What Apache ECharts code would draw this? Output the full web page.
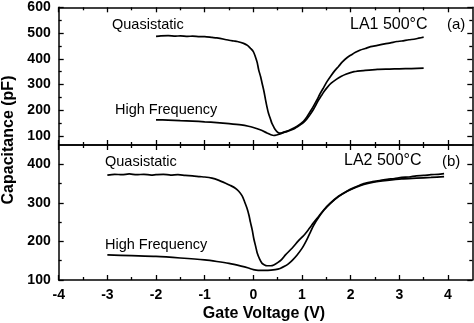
<!DOCTYPE html>
<html>
<head>
<meta charset="utf-8">
<script src="https://cdn.jsdelivr.net/npm/echarts@6/dist/echarts.min.js"></script>
<style>
html,body{margin:0;padding:0;background:#fff;}
#chart{width:474px;height:323px;}
</style>
</head>
<body>
<div id="chart"></div>
<script>
// ---- data (Gate Voltage V, Capacitance pF) ----
var xTicks = [-4, -3, -2, -1, 0, 1, 2, 3, 4];
var xMinor = [-3.5, -2.5, -1.5, -0.5, 0.5, 1.5, 2.5, 3.5];
var yTicksA = [100, 200, 300, 400, 500, 600];
var yMinorA = [150, 250, 350, 450, 550];
var yTicksB = [100, 200, 300, 400];
var yMinorB = [150, 250, 350];

var qsA = [[-2,487],[-1.9,489],[-1.75,490],[-1.6,488],[-1.5,489],[-1.35,487],[-1.25,488],[-1.1,486],[-1,486],[-0.85,483],[-0.75,481],[-0.6,476],[-0.5,472],[-0.4,469],[-0.33,467],[-0.2,460],[-0.12,452],[-0.06,441],[0,428],[0.04,409],[0.08,385],[0.11,357],[0.15,330],[0.18,305],[0.22,272],[0.25,241],[0.28,213],[0.31,189],[0.35,167],[0.38,150],[0.42,135],[0.45,125],[0.49,116],[0.52,112],[0.56,111],[0.6,113],[0.68,118],[0.76,124],[0.9,138],[1.03,157],[1.1,174],[1.17,195],[1.24,217],[1.31,241],[1.38,267],[1.45,290],[1.52,313],[1.6,335],[1.67,353],[1.75,370],[1.83,388],[1.93,405],[2.02,416],[2.1,425],[2.2,434],[2.3,440],[2.41,447],[2.55,452],[2.7,458],[2.82,462],[2.95,467],[3.05,469],[3.2,474],[3.3,476],[3.4,480],[3.5,484]];
var hfA = [[-2,163],[-1.75,162],[-1.5,160],[-1.25,158],[-1,155],[-0.75,152],[-0.5,148],[-0.25,143],[-0.1,138],[0,133],[0.14,124],[0.28,112],[0.36,105],[0.42,102],[0.48,104],[0.55,108],[0.63,114],[0.7,118],[0.83,127],[0.97,144],[1.04,154],[1.1,166],[1.17,184],[1.24,205],[1.29,222],[1.34,240],[1.4,257],[1.45,272],[1.52,289],[1.6,305],[1.72,322],[1.8,331],[1.9,340],[2.07,350],[2.3,355],[2.55,359],[2.8,360],[3,361],[3.25,362],[3.5,364]];
var qsB = [[-3,372],[-2.85,374],[-2.7,373],[-2.55,375],[-2.4,373],[-2.25,374],[-2.1,372],[-2,373],[-1.85,374],[-1.7,372],[-1.55,373],[-1.4,371],[-1.25,370],[-1.1,368],[-1,367],[-0.85,364],[-0.72,359],[-0.57,351],[-0.47,345],[-0.37,338],[-0.3,330],[-0.23,318],[-0.18,303],[-0.13,286],[-0.09,268],[-0.06,250],[-0.02,228],[0.01,207],[0.05,186],[0.08,170],[0.13,154],[0.18,143],[0.23,139],[0.28,137],[0.36,137],[0.42,139],[0.5,145],[0.58,153],[0.66,165],[0.8,183],[0.93,202],[1.04,216],[1.14,232],[1.24,249],[1.35,266],[1.45,282],[1.58,299],[1.75,317],[1.93,331],[2.1,341],[2.27,350],[2.45,355],[2.6,358],[2.75,361],[2.9,363],[3.05,366],[3.2,367],[3.35,370],[3.5,371],[3.65,373],[3.8,374],[3.92,376]];
var hfB = [[-3,165],[-2.5,163],[-2,161],[-1.5,157],[-1,152],[-0.75,148],[-0.5,143],[-0.25,136],[-0.1,131],[0,127],[0.1,125],[0.3,125],[0.45,127],[0.55,130],[0.65,136],[0.72,142],[0.8,151],[0.9,165],[1,182],[1.06,195],[1.12,210],[1.18,226],[1.24,242],[1.35,264],[1.45,281],[1.58,298],[1.75,316],[1.93,330],[2.1,340],[2.27,348],[2.45,353],[2.75,358],[3.05,362],[3.35,364],[3.65,366],[3.92,368]];

var FONT = '"Liberation Sans", Arial, Helvetica, sans-serif';
var chart = echarts.init(document.getElementById('chart'), null, {renderer: 'canvas'});

function xAx(grid, pos, ticks, len, line, labels) {
  return {
    type: 'value', gridIndex: grid, position: pos, min: -4, max: 4.5,
    axisLine: {show: line, onZero: false, lineStyle: {color: '#000', width: 1.5}},
    axisTick: {show: true, inside: true, length: len, customValues: ticks, lineStyle: {color: '#000', width: 1.3}},
    axisLabel: {show: labels, customValues: xTicks, margin: 8, color: '#000', fontFamily: FONT, fontWeight: 'bold', fontSize: 14},
    splitLine: {show: false}
  };
}
function yAx(grid, pos, min, max, ticks, len, line, labels, labelVals) {
  return {
    type: 'value', gridIndex: grid, position: pos, min: min, max: max,
    axisLine: {show: line, onZero: false, lineStyle: {color: '#000', width: 1.5}},
    axisTick: {show: true, inside: true, length: len, customValues: ticks, lineStyle: {color: '#000', width: 1.3}},
    axisLabel: {show: labels, customValues: labelVals, margin: 8, color: '#000', fontFamily: FONT, fontWeight: 'bold', fontSize: 14},
    splitLine: {show: false}
  };
}

var xAxes = [
  xAx(0, 'bottom', xTicks, 5, true, false),
  xAx(0, 'bottom', xMinor, 3, false, false),
  xAx(0, 'top', xTicks, 5, true, false),
  xAx(0, 'top', xMinor, 3, false, false),
  xAx(1, 'bottom', xTicks, 5, true, true),
  xAx(1, 'bottom', xMinor, 3, false, false),
  xAx(1, 'top', xTicks, 5, true, false),
  xAx(1, 'top', xMinor, 3, false, false)
];
var yAxes = [
  yAx(0, 'left', 65, 600, yTicksA, 5, true, true, yTicksA),
  yAx(0, 'left', 65, 600, yMinorA, 3, false, false, yTicksA),
  yAx(0, 'right', 65, 600, yTicksA, 5, true, false, yTicksA),
  yAx(0, 'right', 65, 600, yMinorA, 3, false, false, yTicksA),
  yAx(1, 'left', 100, 450, yTicksB, 5, true, true, yTicksB),
  yAx(1, 'left', 100, 450, yMinorB, 3, false, false, yTicksB),
  yAx(1, 'right', 100, 450, yTicksB, 5, true, false, yTicksB),
  yAx(1, 'right', 100, 450, yMinorB, 3, false, false, yTicksB)
];

function line(name, data, xi, yi) {
  return {
    name: name, type: 'line', data: data, xAxisIndex: xi, yAxisIndex: yi,
    showSymbol: false, smooth: 0.25, silent: true,
    lineStyle: {color: '#000', width: 1.7}
  };
}

function txt(x, y, s, size, align) {
  return {type: 'text', x: x, y: y, silent: true,
    style: {text: s, fill: '#000', font: size + 'px ' + FONT, textAlign: align || 'left', textVerticalAlign: 'middle'}};
}

chart.setOption({
  animation: false,
  backgroundColor: '#fff',
  grid: [
    {left: 58.7, right: 1.7, top: 7.3, height: 137.7, containLabel: false},
    {left: 58.7, right: 1.7, top: 145, height: 135, containLabel: false}
  ],
  xAxis: xAxes,
  yAxis: yAxes,
  series: [
    line('Quasistatic (a)', qsA, 0, 0),
    line('High Frequency (a)', hfA, 0, 0),
    line('Quasistatic (b)', qsB, 4, 4),
    line('High Frequency (b)', hfB, 4, 4)
  ],
  graphic: [
    txt(112, 25, 'Quasistatic', 14.5),
    txt(115, 110, 'High Frequency', 14.5),
    txt(350, 25, 'LA1 500°C', 16),
    txt(447, 25, '(a)', 15),
    txt(105, 162, 'Quasistatic', 14.5),
    txt(105, 245, 'High Frequency', 14.5),
    txt(344, 161, 'LA2 500°C', 16),
    txt(442, 162, '(b)', 15),
    {type: 'text', x: 264, y: 314, silent: true,
     style: {text: 'Gate Voltage (V)', fill: '#000', font: 'bold 16px ' + FONT, textAlign: 'center', textVerticalAlign: 'middle'}},
    {type: 'text', x: 9, y: 140, rotation: Math.PI / 2, silent: true,
     style: {text: 'Capacitance (pF)', fill: '#000', font: 'bold 16px ' + FONT, textAlign: 'center', textVerticalAlign: 'middle'}}
  ]
});
</script>
</body>
</html>
